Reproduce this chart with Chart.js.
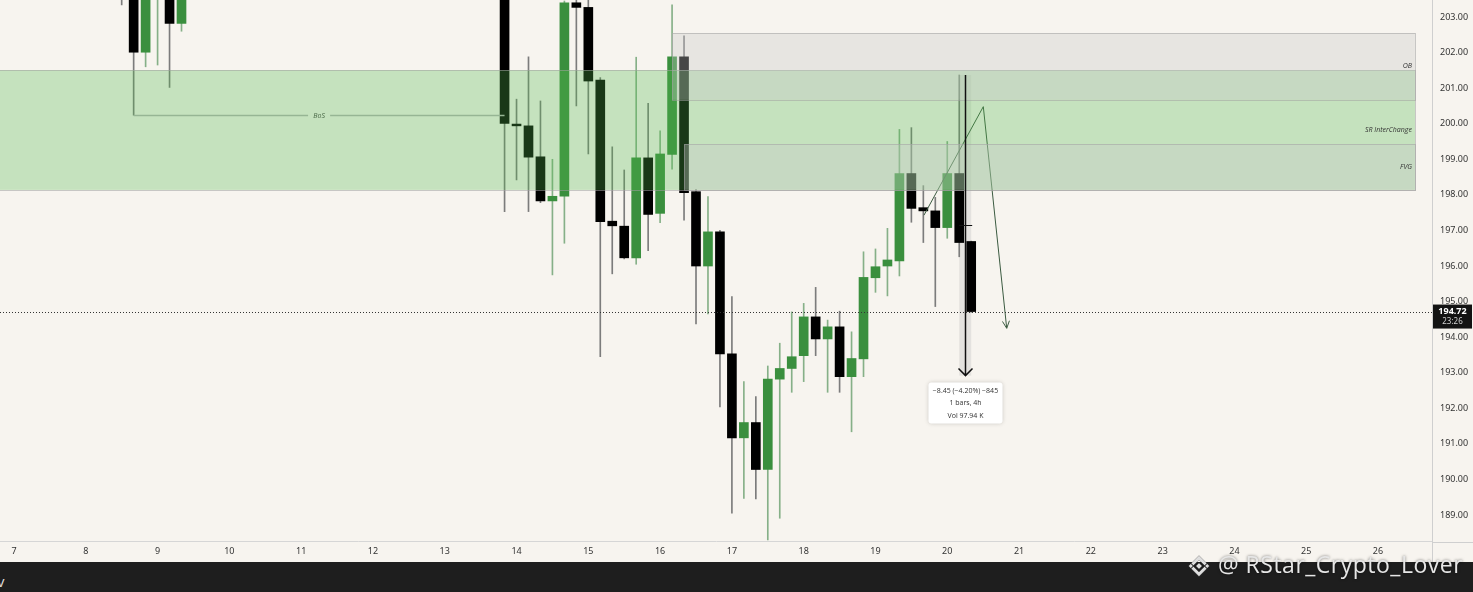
<!DOCTYPE html>
<html>
<head>
<meta charset="utf-8">
<script src="https://cdn.jsdelivr.net/npm/chart.js@4.4.0/dist/chart.umd.min.js"></script>
<style>
  html, body { margin: 0; padding: 0; background: #f7f4ef; overflow: hidden; }
  #wrap { position: relative; width: 1473px; height: 592px; }
  #box { position: absolute; left: 0; top: 0; width: 1473px; height: 562px; }
  #bar { position: absolute; left: 0; top: 562px; width: 1473px; height: 30px; background: #1e1e1e; }
  #bar span { position: absolute; left: -3px; top: 9px; color: #ddd; font: 15px "Open Sans"; }
  #marca { position: absolute; left: 1185px; top: 551px; height: 30px; white-space: nowrap; }
  #marca svg { position: absolute; left: 0; top: 1px; }
  #marca b { position: absolute; left: 33px; top: -1px; font: 400 23px/28px "Open Sans"; letter-spacing: 0.5px;
             color: #e6e6e6; text-shadow: 0 0 3px rgba(0,0,0,0.55); }
</style>
</head>
<body>
<div id="wrap">
  <div id="box"><canvas id="grafico"></canvas></div>
  <div id="bar"><span>v</span></div>
  <div id="marca">
    <svg width="28" height="28" viewBox="0 0 126 126">
      <g fill="#dedede" stroke="rgba(0,0,0,0.35)" stroke-width="3">
        <polygon points="63,49 77,63 63,77 49,63"/>
        <polygon points="16,63 26,53 36,63 26,73"/>
        <polygon points="90,63 100,53 110,63 100,73"/>
        <polygon points="63,16 98,51 88,61 63,36 38,61 28,51"/>
        <polygon points="63,110 98,75 88,65 63,90 38,65 28,75"/>
      </g>
    </svg>
    <b>@ RStar_Crypto_Lover</b>
  </div>
</div>
<script>
// velas de 4h: "dia hora"
const times = ['8 12:00', '8 16:00', '8 20:00', '9 00:00', '9 04:00', '9 08:00',
  '13 20:00',
  '14 00:00', '14 04:00', '14 08:00', '14 12:00', '14 16:00', '14 20:00',
  '15 00:00', '15 04:00', '15 08:00', '15 12:00', '15 16:00', '15 20:00',
  '16 00:00', '16 04:00', '16 08:00', '16 12:00', '16 16:00', '16 20:00',
  '17 00:00', '17 04:00', '17 08:00', '17 12:00', '17 16:00', '17 20:00',
  '18 00:00', '18 04:00', '18 08:00', '18 12:00', '18 16:00', '18 20:00',
  '19 00:00', '19 04:00', '19 08:00', '19 12:00', '19 16:00', '19 20:00',
  '20 00:00', '20 04:00', '20 08:00'];

const opens = [204.6, 203.9, 202.01, 203.7, 204.3, 202.82,
  205.2,
  199.99, 199.94, 199.07, 197.83, 197.96, 203.40,
  203.27, 201.23, 197.26, 197.12, 196.23, 199.04,
  197.48, 199.14, 201.88, 198.09, 196.0, 196.96,
  193.53, 191.17, 191.6, 190.28, 192.82, 193.12,
  193.48, 194.57, 193.95, 194.29, 192.89, 193.39,
  195.67, 196.0, 196.14, 198.6, 197.64, 197.55,
  197.08, 198.6, 196.69];

const highs = [205.0, 204.2, 204.0, 204.6, 204.5, 204.1,
  205.6,
  200.69, 201.88, 200.64, 199.0, 203.45, 203.6,
  203.55, 201.3, 199.35, 198.70, 201.87, 200.57,
  199.80, 203.34, 202.47, 198.15, 197.95, 197.0,
  195.14, 192.75, 192.33, 193.19, 193.83, 194.71,
  194.95, 195.4, 194.48, 194.73, 194.15, 196.40,
  196.48, 197.06, 199.84, 199.89, 198.26, 197.93,
  199.5, 201.37, 196.7];

const lows = [203.34, 200.24, 201.6, 201.65, 201.02, 202.6,
  197.53,
  198.42, 197.53, 197.78, 195.75, 196.64, 200.5,
  199.15, 193.45, 195.78, 196.2, 196.05, 196.43,
  197.22, 198.72, 197.29, 194.37, 194.65, 192.04,
  189.05, 189.47, 189.45, 188.3, 188.91, 192.45,
  192.75, 193.48, 192.45, 192.45, 191.34, 192.89,
  195.26, 195.16, 195.72, 197.23, 196.66, 194.86,
  196.78, 196.26, 194.7];

const closes = [203.9, 202.01, 203.7, 204.3, 202.82, 203.9,
  200.01,
  199.94, 199.06, 197.83, 197.96, 203.40, 203.27,
  201.2, 197.25, 197.13, 196.23, 199.04, 197.45,
  199.15, 201.88, 198.06, 196.0, 196.96, 193.53,
  191.17, 191.6, 190.28, 192.82, 193.12, 193.45,
  194.57, 193.95, 194.29, 192.89, 193.40, 195.68,
  195.98, 196.17, 198.6, 197.62, 197.55, 197.08,
  198.6, 196.66, 194.72];

// zonas dibujadas (dias y precios)
const zoneNames = ['SR InterChange', 'OB', 'FVG'];
const zoneStart = [6.5, 16.166, 16.333];
const zoneEnd = [26.515, 26.515, 26.515];
const zoneTop = [201.51, 202.55, 199.43];
const zoneBottom = [198.14, 200.67, 198.14];

const bosDays = [8.667, 13.833];
const bosPrice = 200.24;
const bosLabelDay = 11.25;

const pathDays = [19.676, 20.502, 20.828];
const pathPrices = [197.43, 200.48, 194.25];

const measureDays = [20.1667, 20.3333];
const measurePrices = [201.37, 192.92];
const measureMark = 197.15;
const measureText = ['\u22128.45 (\u22124.20%) \u2212845', '1 bars, 4h', 'Vol 97.94 K'];

const lastPrice = 194.72;
const countdown = '23:26';

const xs = times.map(t => {
    const [d, h] = t.split(' ');
    return Number(d) + parseInt(h, 10) / 24;
});
const subida = opens.map((o, i) => closes[i] >= o);

const dibujos = {
    id: 'dibujos',
    beforeDatasetsDraw(chart) {
        // sombra de la medicion, debajo de las velas
        const { ctx } = chart;
        const sx = chart.scales.x, sy = chart.scales.y;
        const mx1 = sx.getPixelForValue(measureDays[0]), mx2 = sx.getPixelForValue(measureDays[1]);
        const my1 = sy.getPixelForValue(measurePrices[0]), my2 = sy.getPixelForValue(measurePrices[1]);
        ctx.save();
        ctx.fillStyle = 'rgba(185,185,185,0.3)';
        ctx.fillRect(mx1, my1, mx2 - mx1, my2 - my1);
        ctx.restore();
    },
    afterDatasetsDraw(chart) {
        const { ctx, chartArea: a } = chart;
        const sx = chart.scales.x, sy = chart.scales.y;
        ctx.save();
        ctx.beginPath();
        ctx.rect(a.left, a.top, a.right - a.left, a.bottom - a.top);
        ctx.clip();

        // BoS
        const by = Math.round(sy.getPixelForValue(bosPrice)) + 0.5;
        const bl = sx.getPixelForValue(bosLabelDay);
        ctx.strokeStyle = '#b4b4b4';
        ctx.lineWidth = 1.5;
        ctx.beginPath();
        ctx.moveTo(sx.getPixelForValue(bosDays[0]), by);
        ctx.lineTo(bl - 11, by);
        ctx.moveTo(bl + 11, by);
        ctx.lineTo(sx.getPixelForValue(bosDays[1]), by);
        ctx.stroke();
        ctx.fillStyle = '#444';
        ctx.font = 'italic 7px "Open Sans"';
        ctx.textAlign = 'center';
        ctx.textBaseline = 'middle';
        ctx.fillText('BoS', bl, by);

        // zonas
        zoneNames.forEach((name, i) => {
            const x1 = Math.max(sx.getPixelForValue(zoneStart[i]), a.left - 2);
            const x2 = sx.getPixelForValue(zoneEnd[i]);
            const y1 = sy.getPixelForValue(zoneTop[i]);
            const y2 = sy.getPixelForValue(zoneBottom[i]);
            ctx.fillStyle = i === 0 ? 'rgba(84,186,76,0.3)' : 'rgba(200,200,200,0.35)';
            ctx.fillRect(x1, y1, x2 - x1, y2 - y1);
            ctx.strokeStyle = 'rgba(160,160,160,0.55)';
            ctx.lineWidth = 1;
            ctx.strokeRect(Math.round(x1) + 0.5, Math.round(y1) + 0.5, Math.round(x2 - x1), Math.round(y2 - y1));
            ctx.fillStyle = '#333';
            ctx.font = 'italic 7px "Open Sans"';
            ctx.textAlign = 'right';
            ctx.textBaseline = 'middle';
            ctx.fillText(name, x2 - 3, (y1 + y2) / 2);
        });

        // flecha de la proyeccion
        const n = pathDays.length;
        const ex = sx.getPixelForValue(pathDays[n - 1]), ey = sy.getPixelForValue(pathPrices[n - 1]);
        const qx = sx.getPixelForValue(pathDays[n - 2]), qy = sy.getPixelForValue(pathPrices[n - 2]);
        const ang = Math.atan2(ey - qy, ex - qx);
        ctx.strokeStyle = '#3b5a40';
        ctx.lineWidth = 1;
        ctx.beginPath();
        ctx.moveTo(ex - 8 * Math.cos(ang - 0.45), ey - 8 * Math.sin(ang - 0.45));
        ctx.lineTo(ex, ey);
        ctx.lineTo(ex - 8 * Math.cos(ang + 0.45), ey - 8 * Math.sin(ang + 0.45));
        ctx.stroke();

        // medicion
        const mx1 = sx.getPixelForValue(measureDays[0]), mx2 = sx.getPixelForValue(measureDays[1]);
        const my1 = sy.getPixelForValue(measurePrices[0]), my2 = sy.getPixelForValue(measurePrices[1]);
        const mx = Math.round((mx1 + mx2) / 2) + 0.5;
        ctx.strokeStyle = '#111';
        ctx.lineWidth = 1.5;
        ctx.beginPath();
        ctx.moveTo(mx, my1);
        ctx.lineTo(mx, my2);
        ctx.moveTo(mx - 7, my2 - 7);
        ctx.lineTo(mx, my2);
        ctx.lineTo(mx + 7, my2 - 7);
        ctx.stroke();
        const mk = Math.round(sy.getPixelForValue(measureMark)) + 0.5;
        ctx.lineWidth = 1;
        ctx.beginPath();
        ctx.moveTo(mx1, mk);
        ctx.lineTo(mx2 + 1, mk);
        ctx.stroke();

        // caja de la medicion
        const bw = 74, bh = 41, bx = mx - bw / 2, bt = my2 + 7;
        ctx.save();
        ctx.shadowColor = 'rgba(0,0,0,0.18)';
        ctx.shadowBlur = 4;
        ctx.fillStyle = '#ffffff';
        ctx.beginPath();
        ctx.roundRect(bx, bt, bw, bh, 3);
        ctx.fill();
        ctx.restore();
        ctx.fillStyle = '#333';
        ctx.font = '7px "Open Sans"';
        ctx.textAlign = 'center';
        ctx.textBaseline = 'middle';
        measureText.forEach((t, i) => ctx.fillText(t, mx, bt + 8 + i * 12.5));

        // linea del ultimo precio
        const yp = Math.round(sy.getPixelForValue(lastPrice)) + 0.5;
        ctx.setLineDash([1, 2]);
        ctx.strokeStyle = '#333';
        ctx.beginPath();
        ctx.moveTo(a.left, yp);
        ctx.lineTo(a.right, yp);
        ctx.stroke();
        ctx.setLineDash([]);
        ctx.restore();
    },
    afterDraw(chart) {
        const { ctx, chartArea: a } = chart;
        const sy = chart.scales.y;
        ctx.save();
        ctx.strokeStyle = '#cfcfcf';
        ctx.lineWidth = 1;
        ctx.beginPath();
        ctx.moveTo(Math.round(a.right) + 0.5, a.bottom);
        ctx.lineTo(Math.round(a.right) + 0.5, chart.height);
        ctx.moveTo(a.right, Math.round(a.bottom) + 1.5);
        ctx.lineTo(chart.width, Math.round(a.bottom) + 1.5);
        ctx.stroke();

        // etiqueta del precio
        const yp = sy.getPixelForValue(lastPrice);
        ctx.fillStyle = '#131313';
        ctx.fillRect(a.right + 1, yp - 7, chart.width - a.right - 2, 24);
        ctx.textAlign = 'center';
        ctx.textBaseline = 'middle';
        ctx.fillStyle = '#ffffff';
        ctx.font = 'bold 9px "Noto Sans"';
        const cx = (a.right + chart.width) / 2;
        ctx.fillText(lastPrice.toFixed(2), cx, yp);
        ctx.fillStyle = '#cfcfcf';
        ctx.font = '8px "Noto Sans"';
        ctx.fillText(countdown, cx, yp + 10);
        ctx.restore();
    }
};

document.addEventListener('DOMContentLoaded', () => {
    new Chart(document.getElementById('grafico'), {
        type: 'bar',
        data: {
            datasets: [{
                label: 'Cuerpos',
                data: xs.map((x, i) => ({ x: x, y: [opens[i], closes[i]] })),
                backgroundColor: subida.map(u => u ? '#3a8f3e' : '#000000'),
                barThickness: 9,
                grouped: false,
                order: 1
            }, {
                label: 'Mechas',
                data: xs.map((x, i) => ({ x: x, y: [lows[i], highs[i]] })),
                backgroundColor: subida.map(u => u ? '#86b088' : '#7c7c7c'),
                barThickness: 1,
                grouped: false,
                order: 2
            }, {
                type: 'line',
                label: 'Proyeccion',
                data: pathDays.map((d, i) => ({ x: d, y: pathPrices[i] })),
                borderColor: '#3b5a40',
                borderWidth: 1,
                pointRadius: 0,
                order: 0
            }]
        },
        options: {
            responsive: true,
            maintainAspectRatio: false,
            animation: false,
            layout: { padding: 0 },
            plugins: { legend: { display: false }, tooltip: { enabled: false } },
            scales: {
                x: {
                    type: 'linear',
                    offset: false,
                    min: 6.805,
                    max: 26.752,
                    grid: { display: false, drawTicks: false, offset: false },
                    border: { display: true, color: '#d6d6d6' },
                    ticks: {
                        stepSize: 1,
                        includeBounds: false,
                        autoSkip: false,
                        maxRotation: 0,
                        padding: 5,
                        color: '#333',
                        font: { family: 'Noto Sans', size: 9 }
                    },
                    afterFit: s => { s.height = 21; s.paddingLeft = 0; s.paddingRight = 0; }
                },
                y: {
                    position: 'right',
                    beginAtZero: false,
                    min: 188.27,
                    max: 203.478,
                    grid: { display: false, drawTicks: false },
                    border: { display: true, color: '#cfcfcf' },
                    ticks: {
                        stepSize: 1,
                        includeBounds: false,
                        padding: 8,
                        color: '#333',
                        font: { family: 'Noto Sans', size: 9 },
                        callback: v => v.toFixed(2)
                    },
                    afterFit: s => { s.width = 41; s.paddingTop = 0; s.paddingBottom = 0; }
                }
            }
        },
        plugins: [dibujos]
    });
});
</script>
</body>
</html>
